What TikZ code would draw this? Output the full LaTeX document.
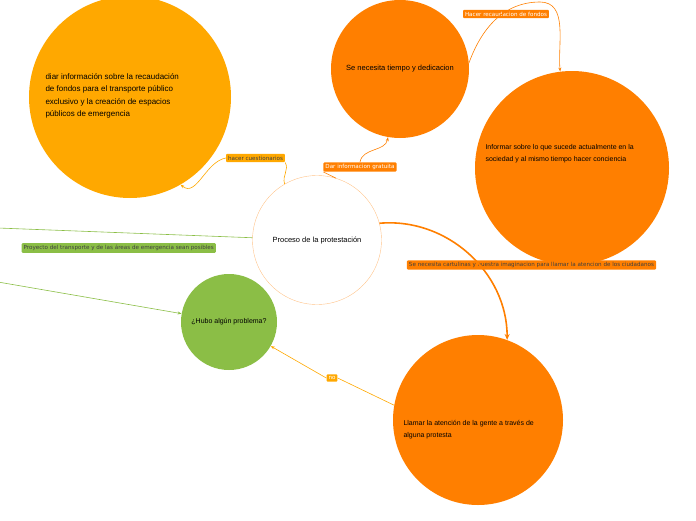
\documentclass[tikz,border=0pt]{standalone}
\usepackage{fontspec}
\setmainfont{Liberation Sans}
\newfontfamily\lblfont{DejaVu Sans}
\usetikzlibrary{arrows.meta}
\definecolor{yel}{HTML}{FFA800}
\definecolor{org}{HTML}{FF7F00}
\definecolor{grn}{HTML}{8BBE46}
\definecolor{pale}{HTML}{FFC48A}
\tikzset{
  circ/.style={circle,inner sep=0pt,align=left,font=\fontsize{7.5}{11}\selectfont},
  lbl/.style={rectangle,rounded corners=1pt,inner sep=2pt,font=\lblfont\fontsize{5.6}{6}\selectfont},
  conn/.style={line width=0.6pt,-{Stealth[length=4pt,width=3pt]}},
}
\begin{document}
\begin{tikzpicture}[x=1pt,y=-1pt]
\useasboundingbox (0,0) rectangle (696,520);
\clip (0,0) rectangle (696,520);
\node[circ,fill=yel,minimum size=202pt] (y) at (130,97) {};
\node[font=\fontsize{8}{12.5}\selectfont,align=left,anchor=west] at (42,96) {diar información sobre la recaudación\\de fondos para el transporte público\\exclusivo y la creación de espacios\\públicos de emergencia};
\node[circ,fill=org,minimum size=138pt] (t) at (400,69) {};
\node at (400,69) {\fontsize{7.5}{10}\selectfont Se necesita tiempo y dedicacion};
\node[circ,fill=org,minimum size=194pt] (i) at (572,168) {};
\node[align=left,anchor=west,font=\fontsize{7}{12}\selectfont] at (482,154) {Informar sobre lo que sucede actualmente en la\\sociedad y al mismo tiempo hacer conciencia};
\node[circ,draw=pale,fill=white,minimum size=129pt] (c) at (317,240) {};
\node at (317,241) {\fontsize{7.5}{10}\selectfont Proceso de la protestación};
\node[circ,fill=grn,minimum size=96pt] (g) at (229,322) {};
\node at (229,322) {\fontsize{7}{10}\selectfont ¿Hubo algún problema?};
\node[circ,fill=org,minimum size=170pt] (b) at (478,420) {};
\node[align=left,anchor=west,font=\fontsize{7}{12}\selectfont] at (400,430) {Llamar la atención de la gente a través de\\alguna protesta};
% labels
\node[lbl,fill=yel,text=black!75] (l1) at (255.5,158) {hacer cuestionarios};
\node[lbl,fill=org,text=white] (l2) at (360,167) {Dar informacion gratuita};
\node[lbl,fill=org,text=white] (l3) at (506,14) {Hacer recaudacion de fondos};
\node[lbl,fill=org,text=black!75] (l4) at (531.5,265) {Se necesita cartulinas y nuestra imaginacion para llamar la atencion de los ciudadanos};
\node[lbl,fill=grn,text=black!75,anchor=east] (l5) at (216,248) {Proyecto del transporte y de las áreas de emergencia sean posibles};
\node[lbl,fill=yel,text=white] (l6) at (332,378) {no};
\coordinate (gl1) at (-2,228);
\coordinate (gl2) at (-2,282);
% connectors
\draw[yel,line width=0.6pt] (c.120) to[out=110,in=-60] (l1.south east);
\draw[yel,conn] (l1.west) to[out=190,in=-40] (y.-60);
\draw[org,line width=0.6pt] (c.73) -- (l2.south west);
\draw[org,conn] (l2.north) to[out=80,in=-100] (t.-100);
\draw[org,conn] (t.5) to[out=70,in=180] (540,2) to[out=0,in=95] (i.97);
\draw[org,line width=1.6pt,-{Stealth[length=6pt,width=5pt]}] (c.15) to[out=5,in=90] (b.70);
\draw[grn,line width=0.6pt] (gl1) -- (c.178);
\draw[grn,conn] (gl2) -- (g.170);
\draw[yel,line width=0.6pt] (b.170) -- (l6.east);
\draw[yel,conn] (l6.west) -- (g.-30);
\end{tikzpicture}
\end{document}
